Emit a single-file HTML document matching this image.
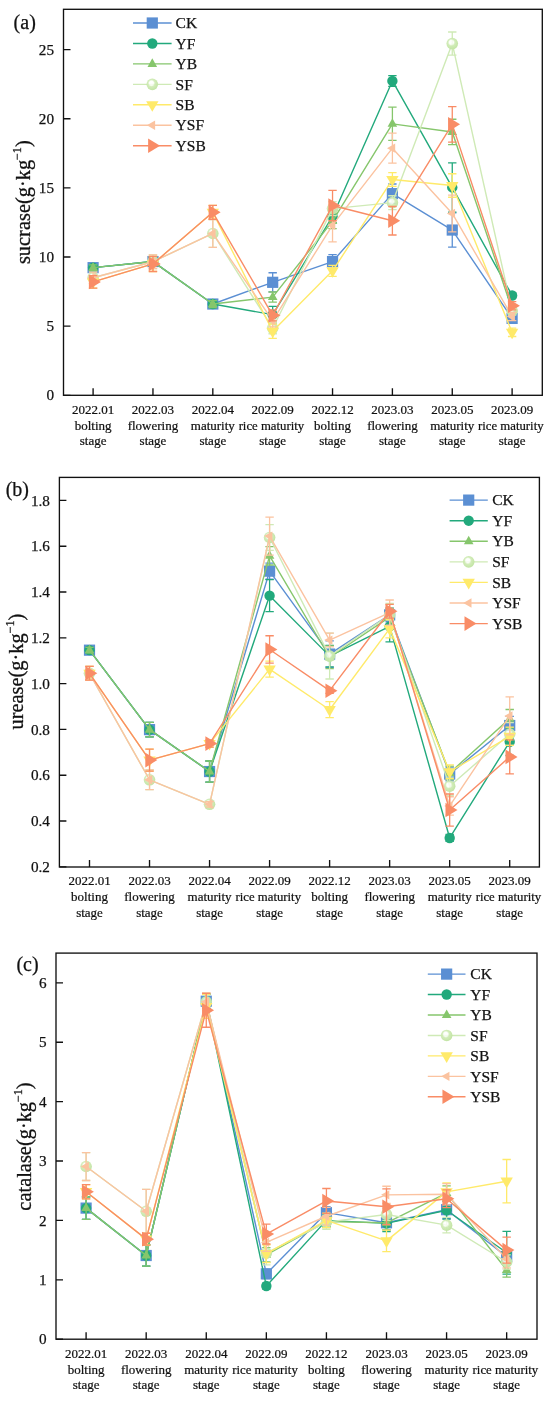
<!DOCTYPE html>
<html lang="en">
<head>
<meta charset="utf-8">
<title>Soil enzyme activity: sucrase, urease, catalase</title>
<style>
html,body{margin:0;padding:0;background:#fff;}
body{width:550px;height:1401px;overflow:hidden;font-family:"Liberation Serif","Times New Roman",serif;}
svg{display:block;}
</style>
</head>
<body>
<svg width="550" height="1401" viewBox="0 0 550 1401" font-family='"Liberation Serif", "Times New Roman", serif'>
<defs><radialGradient id="sph" cx="0.44" cy="0.42" r="0.58" fx="0.42" fy="0.38"><stop offset="0" stop-color="#ffffff" stop-opacity="0.8"/><stop offset="0.3" stop-color="#fdfffb" stop-opacity="0.8"/><stop offset="0.52" stop-color="#CFEBB4" stop-opacity="0.92"/><stop offset="1" stop-color="#C2E4A4"/></radialGradient></defs>
<rect width="550" height="1401" fill="#fff"/>
<g>
<g>
<polyline fill="none" stroke="#5B8FD3" stroke-width="1.4" stroke-linejoin="round" points="93.1,267.65 152.96,261.56 212.82,304.02 272.68,282.31 332.54,261.56 392.4,193.66 452.26,230.03 512.12,318.41"/>
<path fill="none" stroke="#5B8FD3" stroke-width="1.3" d="M93.1 264.88V270.42M88.9 264.88H97.3M88.9 270.42H97.3M152.96 257.41V265.71M148.76 257.41H157.16M148.76 265.71H157.16M212.82 300.56V307.48M208.62 300.56H217.02M208.62 307.48H217.02M272.68 272.77V291.85M268.48 272.77H276.88M268.48 291.85H276.88M332.54 254.65V268.48M328.34 254.65H336.74M328.34 268.48H336.74M392.4 183.98V203.34M388.2 183.98H396.6M388.2 203.34H396.6M452.26 212.88V247.18M448.06 212.88H456.46M448.06 247.18H456.46M512.12 315.64V321.17M507.92 315.64H516.32M507.92 321.17H516.32"/>
<rect x="87.5" y="262.05" width="11.2" height="11.2" fill="#5B8FD3"/>
<rect x="147.36" y="255.96" width="11.2" height="11.2" fill="#5B8FD3"/>
<rect x="207.22" y="298.42" width="11.2" height="11.2" fill="#5B8FD3"/>
<rect x="267.08" y="276.71" width="11.2" height="11.2" fill="#5B8FD3"/>
<rect x="326.94" y="255.96" width="11.2" height="11.2" fill="#5B8FD3"/>
<rect x="386.8" y="188.06" width="11.2" height="11.2" fill="#5B8FD3"/>
<rect x="446.66" y="224.43" width="11.2" height="11.2" fill="#5B8FD3"/>
<rect x="506.52" y="312.81" width="11.2" height="11.2" fill="#5B8FD3"/>
</g>
<g>
<polyline fill="none" stroke="#22A97C" stroke-width="1.4" stroke-linejoin="round" points="93.1,267.65 152.96,261.56 212.82,304.02 272.68,314.67 332.54,216.48 392.4,80.94 452.26,187.44 512.12,295.45"/>
<path fill="none" stroke="#22A97C" stroke-width="1.3" d="M93.1 264.88V270.42M88.9 264.88H97.3M88.9 270.42H97.3M152.96 257.41V265.71M148.76 257.41H157.16M148.76 265.71H157.16M212.82 300.56V307.48M208.62 300.56H217.02M208.62 307.48H217.02M272.68 306.37V322.97M268.48 306.37H276.88M268.48 322.97H276.88M332.54 210.25V222.7M328.34 210.25H336.74M328.34 222.7H336.74M392.4 75.55V86.34M388.2 75.55H396.6M388.2 86.34H396.6M452.26 162.82V212.05M448.06 162.82H456.46M448.06 212.05H456.46M512.12 292.68V298.21M507.92 292.68H516.32M507.92 298.21H516.32"/>
<circle cx="93.1" cy="267.65" r="5.2" fill="#22A97C"/>
<circle cx="152.96" cy="261.56" r="5.2" fill="#22A97C"/>
<circle cx="212.82" cy="304.02" r="5.2" fill="#22A97C"/>
<circle cx="272.68" cy="314.67" r="5.2" fill="#22A97C"/>
<circle cx="332.54" cy="216.48" r="5.2" fill="#22A97C"/>
<circle cx="392.4" cy="80.94" r="5.2" fill="#22A97C"/>
<circle cx="452.26" cy="187.44" r="5.2" fill="#22A97C"/>
<circle cx="512.12" cy="295.45" r="5.2" fill="#22A97C"/>
</g>
<g>
<polyline fill="none" stroke="#86C66C" stroke-width="1.4" stroke-linejoin="round" points="93.1,267.65 152.96,261.56 212.82,304.02 272.68,297.11 332.54,221.04 392.4,123.82 452.26,131.98 512.12,309.55"/>
<path fill="none" stroke="#86C66C" stroke-width="1.3" d="M93.1 264.88V270.42M88.9 264.88H97.3M88.9 270.42H97.3M152.96 257.41V265.71M148.76 257.41H157.16M148.76 265.71H157.16M212.82 300.56V307.48M208.62 300.56H217.02M208.62 307.48H217.02M272.68 291.99V302.22M268.48 291.99H276.88M268.48 302.22H276.88M332.54 213.44V228.65M328.34 213.44H336.74M328.34 228.65H336.74M392.4 107.22V140.41M388.2 107.22H396.6M388.2 140.41H396.6M452.26 119.25V144.7M448.06 119.25H456.46M448.06 144.7H456.46M512.12 306.1V313.01M507.92 306.1H516.32M507.92 313.01H516.32"/>
<path d="M93.1 262.05L97.9 270.65L88.3 270.65Z" fill="#86C66C"/>
<path d="M152.96 255.96L157.76 264.56L148.16 264.56Z" fill="#86C66C"/>
<path d="M212.82 298.42L217.62 307.02L208.02 307.02Z" fill="#86C66C"/>
<path d="M272.68 291.51L277.48 300.11L267.88 300.11Z" fill="#86C66C"/>
<path d="M332.54 215.44L337.34 224.04L327.74 224.04Z" fill="#86C66C"/>
<path d="M392.4 118.22L397.2 126.82L387.6 126.82Z" fill="#86C66C"/>
<path d="M452.26 126.38L457.06 134.98L447.46 134.98Z" fill="#86C66C"/>
<path d="M512.12 303.95L516.92 312.55L507.32 312.55Z" fill="#86C66C"/>
</g>
<g>
<polyline fill="none" stroke="#CFEAB6" stroke-width="1.4" stroke-linejoin="round" points="93.1,277.75 152.96,261.7 212.82,233.49 272.68,328.22 332.54,208.59 392.4,202.65 452.26,43.6 512.12,310.94"/>
<path fill="none" stroke="#CFEAB6" stroke-width="1.3" d="M93.1 272.21V283.28M88.9 272.21H97.3M88.9 283.28H97.3M152.96 254.79V268.62M148.76 254.79H157.16M148.76 268.62H157.16M212.82 219.66V247.32M208.62 219.66H217.02M208.62 247.32H217.02M272.68 322.69V333.76M268.48 322.69H276.88M268.48 333.76H276.88M332.54 201.68V215.51M328.34 201.68H336.74M328.34 215.51H336.74M392.4 195.73V209.56M388.2 195.73H396.6M388.2 209.56H396.6M452.26 31.99V55.22M448.06 31.99H456.46M448.06 55.22H456.46M512.12 306.79V315.09M507.92 306.79H516.32M507.92 315.09H516.32"/>
<circle cx="93.1" cy="277.75" r="5.8" fill="url(#sph)"/>
<circle cx="152.96" cy="261.7" r="5.8" fill="url(#sph)"/>
<circle cx="212.82" cy="233.49" r="5.8" fill="url(#sph)"/>
<circle cx="272.68" cy="328.22" r="5.8" fill="url(#sph)"/>
<circle cx="332.54" cy="208.59" r="5.8" fill="url(#sph)"/>
<circle cx="392.4" cy="202.65" r="5.8" fill="url(#sph)"/>
<circle cx="452.26" cy="43.6" r="5.8" fill="url(#sph)"/>
<circle cx="512.12" cy="310.94" r="5.8" fill="url(#sph)"/>
</g>
<g>
<polyline fill="none" stroke="#FFEA6A" stroke-width="1.4" stroke-linejoin="round" points="93.1,281.89 152.96,263.92 212.82,212.33 272.68,331.27 332.54,270.83 392.4,179.55 452.26,185.5 512.12,332.37"/>
<path fill="none" stroke="#FFEA6A" stroke-width="1.3" d="M93.1 275.67V288.12M88.9 275.67H97.3M88.9 288.12H97.3M152.96 256.31V271.52M148.76 256.31H157.16M148.76 271.52H157.16M212.82 205.41V219.24M208.62 205.41H217.02M208.62 219.24H217.02M272.68 324.21V338.32M268.48 324.21H276.88M268.48 338.32H276.88M332.54 265.3V276.36M328.34 265.3H336.74M328.34 276.36H336.74M392.4 172.64V186.47M388.2 172.64H396.6M388.2 186.47H396.6M452.26 173.74V197.25M448.06 173.74H456.46M448.06 197.25H456.46M512.12 328.22V336.52M507.92 328.22H516.32M507.92 336.52H516.32"/>
<path d="M86.9 278.29L99.3 278.29L93.1 288.89Z" fill="#FFEA6A"/>
<path d="M146.76 260.31L159.16 260.31L152.96 270.92Z" fill="#FFEA6A"/>
<path d="M206.62 208.73L219.02 208.73L212.82 219.33Z" fill="#FFEA6A"/>
<path d="M266.48 327.67L278.88 327.67L272.68 338.27Z" fill="#FFEA6A"/>
<path d="M326.34 267.23L338.74 267.23L332.54 277.83Z" fill="#FFEA6A"/>
<path d="M386.2 175.95L398.6 175.95L392.4 186.55Z" fill="#FFEA6A"/>
<path d="M446.06 181.9L458.46 181.9L452.26 192.5Z" fill="#FFEA6A"/>
<path d="M505.92 328.77L518.32 328.77L512.12 339.37Z" fill="#FFEA6A"/>
</g>
<g>
<polyline fill="none" stroke="#FBC3A0" stroke-width="1.4" stroke-linejoin="round" points="93.1,277.75 152.96,261.7 212.82,233.49 272.68,320.62 332.54,225.19 392.4,148.16 452.26,213.44 512.12,316.47"/>
<path fill="none" stroke="#FBC3A0" stroke-width="1.3" d="M93.1 272.21V283.28M88.9 272.21H97.3M88.9 283.28H97.3M152.96 254.79V268.62M148.76 254.79H157.16M148.76 268.62H157.16M212.82 219.66V247.32M208.62 219.66H217.02M208.62 247.32H217.02M272.68 314.39V326.84M268.48 314.39H276.88M268.48 326.84H276.88M332.54 208.59V241.79M328.34 208.59H336.74M328.34 241.79H336.74M392.4 133.22V163.09M388.2 133.22H396.6M388.2 163.09H396.6M452.26 195.04V231.83M448.06 195.04H456.46M448.06 231.83H456.46M512.12 312.32V320.62M507.92 312.32H516.32M507.92 320.62H516.32"/>
<path d="M87.7 277.75L95.9 273.05L95.9 282.44Z" fill="#FBC3A0"/>
<path d="M147.56 261.7L155.76 257L155.76 266.4Z" fill="#FBC3A0"/>
<path d="M207.42 233.49L215.62 228.79L215.62 238.19Z" fill="#FBC3A0"/>
<path d="M267.28 320.62L275.48 315.92L275.48 325.32Z" fill="#FBC3A0"/>
<path d="M327.14 225.19L335.34 220.49L335.34 229.89Z" fill="#FBC3A0"/>
<path d="M387 148.16L395.2 143.46L395.2 152.86Z" fill="#FBC3A0"/>
<path d="M446.86 213.44L455.06 208.74L455.06 218.14Z" fill="#FBC3A0"/>
<path d="M506.72 316.47L514.92 311.77L514.92 321.17Z" fill="#FBC3A0"/>
</g>
<g>
<polyline fill="none" stroke="#F98C66" stroke-width="1.4" stroke-linejoin="round" points="93.1,281.89 152.96,263.92 212.82,212.33 272.68,315.36 332.54,205.55 392.4,220.77 452.26,124.37 512.12,305.68"/>
<path fill="none" stroke="#F98C66" stroke-width="1.3" d="M93.1 275.67V288.12M88.9 275.67H97.3M88.9 288.12H97.3M152.96 256.31V271.52M148.76 256.31H157.16M148.76 271.52H157.16M212.82 205.41V219.24M208.62 205.41H217.02M208.62 219.24H217.02M272.68 309.83V320.89M268.48 309.83H276.88M268.48 320.89H276.88M332.54 190.34V220.77M328.34 190.34H336.74M328.34 220.77H336.74M392.4 206.52V235.01M388.2 206.52H396.6M388.2 235.01H396.6M452.26 106.53V142.21M448.06 106.53H456.46M448.06 142.21H456.46M512.12 301.53V309.83M507.92 301.53H516.32M507.92 309.83H516.32"/>
<path d="M88.9 274.59L100.9 281.89L88.9 289.19Z" fill="#F98C66"/>
<path d="M148.76 256.62L160.76 263.92L148.76 271.22Z" fill="#F98C66"/>
<path d="M208.62 205.03L220.62 212.33L208.62 219.63Z" fill="#F98C66"/>
<path d="M268.48 308.06L280.48 315.36L268.48 322.66Z" fill="#F98C66"/>
<path d="M328.34 198.25L340.34 205.55L328.34 212.85Z" fill="#F98C66"/>
<path d="M388.2 213.47L400.2 220.77L388.2 228.07Z" fill="#F98C66"/>
<path d="M448.06 117.07L460.06 124.37L448.06 131.67Z" fill="#F98C66"/>
<path d="M507.92 298.38L519.92 305.68L507.92 312.98Z" fill="#F98C66"/>
</g>
<rect x="63.5" y="9.3" width="478.8" height="386" fill="none" stroke="#111" stroke-width="1.35"/>
<path d="M63.5 395.3h7M63.5 326.15h7M63.5 257h7M63.5 187.85h7M63.5 118.7h7M63.5 49.55h7M93.1 395.3v-7M152.96 395.3v-7M212.82 395.3v-7M272.68 395.3v-7M332.54 395.3v-7M392.4 395.3v-7M452.26 395.3v-7M512.12 395.3v-7" stroke="#111" stroke-width="1.35" fill="none"/>
<g font-size="15.2" text-anchor="end" fill="#111" stroke="#111" stroke-width="0.25">
<text x="54" y="400.4">0</text>
<text x="54" y="331.25">5</text>
<text x="54" y="262.1">10</text>
<text x="54" y="192.95">15</text>
<text x="54" y="123.8">20</text>
<text x="54" y="54.65">25</text>
</g>
<g font-size="13" text-anchor="middle" fill="#111" stroke="#111" stroke-width="0.22">
<text x="93.1" y="413.7">2022.01</text>
<text x="93.1" y="429.7">bolting</text>
<text x="93.1" y="444.9">stage</text>
<text x="152.96" y="413.7">2022.03</text>
<text x="152.96" y="429.7">flowering</text>
<text x="152.96" y="444.9">stage</text>
<text x="212.82" y="413.7">2022.04</text>
<text x="212.82" y="429.7">maturity</text>
<text x="212.82" y="444.9">stage</text>
<text x="272.68" y="413.7">2022.09</text>
<text x="271.38" y="429.7" font-size="12.75">rice maturity</text>
<text x="272.68" y="444.9">stage</text>
<text x="332.54" y="413.7">2022.12</text>
<text x="332.54" y="429.7">bolting</text>
<text x="332.54" y="444.9">stage</text>
<text x="392.4" y="413.7">2023.03</text>
<text x="392.4" y="429.7">flowering</text>
<text x="392.4" y="444.9">stage</text>
<text x="452.26" y="413.7">2023.05</text>
<text x="452.26" y="429.7">maturity</text>
<text x="452.26" y="444.9">stage</text>
<text x="512.12" y="413.7">2023.09</text>
<text x="510.82" y="429.7" font-size="12.75">rice maturity</text>
<text x="512.12" y="444.9">stage</text>
</g>
<text transform="translate(30.3 202.2) rotate(-90)" font-size="20.4" text-anchor="middle" fill="#111" stroke="#111" stroke-width="0.3">sucrase(g·kg<tspan font-size="12" dy="-9">−1</tspan><tspan dy="9">)</tspan></text>
<text x="13.6" y="29" font-size="20" fill="#111" stroke="#111" stroke-width="0.25">(a)</text>
<g font-size="15.5" fill="#111" stroke-width="0.25">
<path d="M133 23H171.6" stroke="#5B8FD3" stroke-width="1.4"/>
<rect x="146.7" y="17.4" width="11.2" height="11.2" fill="#5B8FD3"/>
<text stroke="#111" x="175.6" y="28.2">CK</text>
<path d="M133 43.45H171.6" stroke="#22A97C" stroke-width="1.4"/>
<circle cx="152.3" cy="43.45" r="5.2" fill="#22A97C"/>
<text stroke="#111" x="175.6" y="48.65">YF</text>
<path d="M133 63.9H171.6" stroke="#86C66C" stroke-width="1.4"/>
<path d="M152.3 58.3L157.1 66.9L147.5 66.9Z" fill="#86C66C"/>
<text stroke="#111" x="175.6" y="69.1">YB</text>
<path d="M133 84.35H171.6" stroke="#CFEAB6" stroke-width="1.4"/>
<circle cx="152.3" cy="84.35" r="5.8" fill="url(#sph)"/>
<text stroke="#111" x="175.6" y="89.55">SF</text>
<path d="M133 104.8H171.6" stroke="#FFEA6A" stroke-width="1.4"/>
<path d="M146.1 101.2L158.5 101.2L152.3 111.8Z" fill="#FFEA6A"/>
<text stroke="#111" x="175.6" y="110">SB</text>
<path d="M133 125.25H171.6" stroke="#FBC3A0" stroke-width="1.4"/>
<path d="M146.9 125.25L155.1 120.55L155.1 129.95Z" fill="#FBC3A0"/>
<text stroke="#111" x="175.6" y="130.45">YSF</text>
<path d="M133 145.7H171.6" stroke="#F98C66" stroke-width="1.4"/>
<path d="M148.1 138.4L160.1 145.7L148.1 153Z" fill="#F98C66"/>
<text stroke="#111" x="175.6" y="150.9">YSB</text>
</g>
</g>
<g>
<g>
<polyline fill="none" stroke="#5B8FD3" stroke-width="1.4" stroke-linejoin="round" points="89.5,650.17 149.53,729.63 209.56,771.54 269.59,571.16 329.62,654.06 389.65,614.9 449.68,774.05 509.71,725.51"/>
<path fill="none" stroke="#5B8FD3" stroke-width="1.3" d="M89.5 647.42V652.91M85.3 647.42H93.7M85.3 652.91H93.7M149.53 722.3V736.96M145.33 722.3H153.73M145.33 736.96H153.73M209.56 761V782.07M205.36 761H213.76M205.36 782.07H213.76M269.59 563.15V579.18M265.39 563.15H273.79M265.39 579.18H273.79M329.62 640.78V667.34M325.42 640.78H333.82M325.42 667.34H333.82M389.65 608.03V621.77M385.45 608.03H393.85M385.45 621.77H393.85M449.68 767.18V780.92M445.48 767.18H453.88M445.48 780.92H453.88M509.71 716.35V734.67M505.51 716.35H513.91M505.51 734.67H513.91"/>
<rect x="83.9" y="644.57" width="11.2" height="11.2" fill="#5B8FD3"/>
<rect x="143.93" y="724.03" width="11.2" height="11.2" fill="#5B8FD3"/>
<rect x="203.96" y="765.94" width="11.2" height="11.2" fill="#5B8FD3"/>
<rect x="263.99" y="565.56" width="11.2" height="11.2" fill="#5B8FD3"/>
<rect x="324.02" y="648.46" width="11.2" height="11.2" fill="#5B8FD3"/>
<rect x="384.05" y="609.3" width="11.2" height="11.2" fill="#5B8FD3"/>
<rect x="444.08" y="768.45" width="11.2" height="11.2" fill="#5B8FD3"/>
<rect x="504.11" y="719.91" width="11.2" height="11.2" fill="#5B8FD3"/>
</g>
<g>
<polyline fill="none" stroke="#22A97C" stroke-width="1.4" stroke-linejoin="round" points="89.5,650.17 149.53,729.63 209.56,771.54 269.59,595.66 329.62,656.12 389.65,626.35 449.68,837.95 509.71,741.77"/>
<path fill="none" stroke="#22A97C" stroke-width="1.3" d="M89.5 647.42V652.91M85.3 647.42H93.7M85.3 652.91H93.7M149.53 722.3V736.96M145.33 722.3H153.73M145.33 736.96H153.73M209.56 761V782.07M205.36 761H213.76M205.36 782.07H213.76M269.59 579.63V611.69M265.39 579.63H273.79M265.39 611.69H273.79M329.62 645.36V666.88M325.42 645.36H333.82M325.42 666.88H333.82M389.65 610.78V641.92M385.45 610.78H393.85M385.45 641.92H393.85M449.68 834.51V841.38M445.48 834.51H453.88M445.48 841.38H453.88M509.71 728.03V755.51M505.51 728.03H513.91M505.51 755.51H513.91"/>
<circle cx="89.5" cy="650.17" r="5.2" fill="#22A97C"/>
<circle cx="149.53" cy="729.63" r="5.2" fill="#22A97C"/>
<circle cx="209.56" cy="771.54" r="5.2" fill="#22A97C"/>
<circle cx="269.59" cy="595.66" r="5.2" fill="#22A97C"/>
<circle cx="329.62" cy="656.12" r="5.2" fill="#22A97C"/>
<circle cx="389.65" cy="626.35" r="5.2" fill="#22A97C"/>
<circle cx="449.68" cy="837.95" r="5.2" fill="#22A97C"/>
<circle cx="509.71" cy="741.77" r="5.2" fill="#22A97C"/>
</g>
<g>
<polyline fill="none" stroke="#86C66C" stroke-width="1.4" stroke-linejoin="round" points="89.5,650.17 149.53,729.63 209.56,771.54 269.59,555.82 329.62,657.26 389.65,617.19 449.68,772.91 509.71,718.64"/>
<path fill="none" stroke="#86C66C" stroke-width="1.3" d="M89.5 647.42V652.91M85.3 647.42H93.7M85.3 652.91H93.7M149.53 722.3V736.96M145.33 722.3H153.73M145.33 736.96H153.73M209.56 761V782.07M205.36 761H213.76M205.36 782.07H213.76M269.59 546.66V564.98M265.39 546.66H273.79M265.39 564.98H273.79M329.62 645.81V668.71M325.42 645.81H333.82M325.42 668.71H333.82M389.65 608.03V626.35M385.45 608.03H393.85M385.45 626.35H393.85M449.68 766.04V779.78M445.48 766.04H453.88M445.48 779.78H453.88M509.71 709.48V727.8M505.51 709.48H513.91M505.51 727.8H513.91"/>
<path d="M89.5 644.57L94.3 653.17L84.7 653.17Z" fill="#86C66C"/>
<path d="M149.53 724.03L154.33 732.63L144.73 732.63Z" fill="#86C66C"/>
<path d="M209.56 765.94L214.36 774.54L204.76 774.54Z" fill="#86C66C"/>
<path d="M269.59 550.22L274.39 558.82L264.79 558.82Z" fill="#86C66C"/>
<path d="M329.62 651.66L334.42 660.26L324.82 660.26Z" fill="#86C66C"/>
<path d="M389.65 611.59L394.45 620.19L384.85 620.19Z" fill="#86C66C"/>
<path d="M449.68 767.31L454.48 775.91L444.88 775.91Z" fill="#86C66C"/>
<path d="M509.71 713.04L514.51 721.64L504.91 721.64Z" fill="#86C66C"/>
</g>
<g>
<polyline fill="none" stroke="#CFEAB6" stroke-width="1.4" stroke-linejoin="round" points="89.5,673.29 149.53,779.78 209.56,804.28 269.59,537.5 329.62,656.12 389.65,614.9 449.68,786.19 509.71,733.98"/>
<path fill="none" stroke="#CFEAB6" stroke-width="1.3" d="M89.5 666.42V680.16M85.3 666.42H93.7M85.3 680.16H93.7M149.53 769.93V789.63M145.33 769.93H153.73M145.33 789.63H153.73M209.56 801.53V807.03M205.36 801.53H213.76M205.36 807.03H213.76M269.59 524.67V550.32M265.39 524.67H273.79M265.39 550.32H273.79M329.62 633.22V679.02M325.42 633.22H333.82M325.42 679.02H333.82M389.65 603.45V626.35M385.45 603.45H393.85M385.45 626.35H393.85M449.68 777.03V795.35M445.48 777.03H453.88M445.48 795.35H453.88M509.71 722.53V745.43M505.51 722.53H513.91M505.51 745.43H513.91"/>
<circle cx="89.5" cy="673.29" r="5.8" fill="url(#sph)"/>
<circle cx="149.53" cy="779.78" r="5.8" fill="url(#sph)"/>
<circle cx="209.56" cy="804.28" r="5.8" fill="url(#sph)"/>
<circle cx="269.59" cy="537.5" r="5.8" fill="url(#sph)"/>
<circle cx="329.62" cy="656.12" r="5.8" fill="url(#sph)"/>
<circle cx="389.65" cy="614.9" r="5.8" fill="url(#sph)"/>
<circle cx="449.68" cy="786.19" r="5.8" fill="url(#sph)"/>
<circle cx="509.71" cy="733.98" r="5.8" fill="url(#sph)"/>
</g>
<g>
<polyline fill="none" stroke="#FFEA6A" stroke-width="1.4" stroke-linejoin="round" points="89.5,673.29 149.53,760.09 209.56,743.6 269.59,669.17 329.62,709.71 389.65,628.64 449.68,771.76 509.71,736.27"/>
<path fill="none" stroke="#FFEA6A" stroke-width="1.3" d="M89.5 666.42V680.16M85.3 666.42H93.7M85.3 680.16H93.7M149.53 749.09V771.08M145.33 749.09H153.73M145.33 771.08H153.73M209.56 740.16V747.03M205.36 740.16H213.76M205.36 747.03H213.76M269.59 661.16V677.19M265.39 661.16H273.79M265.39 677.19H273.79M329.62 701.69V717.72M325.42 701.69H333.82M325.42 717.72H333.82M389.65 619.48V637.8M385.45 619.48H393.85M385.45 637.8H393.85M449.68 764.89V778.63M445.48 764.89H453.88M445.48 778.63H453.88M509.71 727.11V745.43M505.51 727.11H513.91M505.51 745.43H513.91"/>
<path d="M83.3 669.69L95.7 669.69L89.5 680.29Z" fill="#FFEA6A"/>
<path d="M143.33 756.49L155.73 756.49L149.53 767.09Z" fill="#FFEA6A"/>
<path d="M203.36 740L215.76 740L209.56 750.6Z" fill="#FFEA6A"/>
<path d="M263.39 665.57L275.79 665.57L269.59 676.17Z" fill="#FFEA6A"/>
<path d="M323.42 706.11L335.82 706.11L329.62 716.71Z" fill="#FFEA6A"/>
<path d="M383.45 625.04L395.85 625.04L389.65 635.64Z" fill="#FFEA6A"/>
<path d="M443.48 768.16L455.88 768.16L449.68 778.76Z" fill="#FFEA6A"/>
<path d="M503.51 732.67L515.91 732.67L509.71 743.27Z" fill="#FFEA6A"/>
</g>
<g>
<polyline fill="none" stroke="#FBC3A0" stroke-width="1.4" stroke-linejoin="round" points="89.5,673.29 149.53,779.78 209.56,804.28 269.59,536.12 329.62,640.09 389.65,612.61 449.68,805.89 509.71,715.89"/>
<path fill="none" stroke="#FBC3A0" stroke-width="1.3" d="M89.5 666.42V680.16M85.3 666.42H93.7M85.3 680.16H93.7M149.53 769.93V789.63M145.33 769.93H153.73M145.33 789.63H153.73M209.56 801.53V807.03M205.36 801.53H213.76M205.36 807.03H213.76M269.59 517.12V555.13M265.39 517.12H273.79M265.39 555.13H273.79M329.62 633.22V646.96M325.42 633.22H333.82M325.42 646.96H333.82M389.65 600.01V625.2M385.45 600.01H393.85M385.45 625.2H393.85M449.68 796.73V815.05M445.48 796.73H453.88M445.48 815.05H453.88M509.71 696.88V734.9M505.51 696.88H513.91M505.51 734.9H513.91"/>
<path d="M84.1 673.29L92.3 668.59L92.3 678Z" fill="#FBC3A0"/>
<path d="M144.13 779.78L152.33 775.08L152.33 784.48Z" fill="#FBC3A0"/>
<path d="M204.16 804.28L212.36 799.58L212.36 808.98Z" fill="#FBC3A0"/>
<path d="M264.19 536.12L272.39 531.42L272.39 540.82Z" fill="#FBC3A0"/>
<path d="M324.22 640.09L332.42 635.39L332.42 644.79Z" fill="#FBC3A0"/>
<path d="M384.25 612.61L392.45 607.91L392.45 617.31Z" fill="#FBC3A0"/>
<path d="M444.28 805.89L452.48 801.19L452.48 810.59Z" fill="#FBC3A0"/>
<path d="M504.31 715.89L512.51 711.19L512.51 720.59Z" fill="#FBC3A0"/>
</g>
<g>
<polyline fill="none" stroke="#F98C66" stroke-width="1.4" stroke-linejoin="round" points="89.5,673.29 149.53,760.09 209.56,743.6 269.59,649.48 329.62,690.7 389.65,611.24 449.68,810.01 509.71,756.88"/>
<path fill="none" stroke="#F98C66" stroke-width="1.3" d="M89.5 666.42V680.16M85.3 666.42H93.7M85.3 680.16H93.7M149.53 749.09V771.08M145.33 749.09H153.73M145.33 771.08H153.73M209.56 740.16V747.03M205.36 740.16H213.76M205.36 747.03H213.76M269.59 635.74V663.22M265.39 635.74H273.79M265.39 663.22H273.79M329.62 687.95V693.45M325.42 687.95H333.82M325.42 693.45H333.82M389.65 604.37V618.11M385.45 604.37H393.85M385.45 618.11H393.85M449.68 793.98V826.04M445.48 793.98H453.88M445.48 826.04H453.88M509.71 739.93V773.83M505.51 739.93H513.91M505.51 773.83H513.91"/>
<path d="M85.3 666L97.3 673.29L85.3 680.59Z" fill="#F98C66"/>
<path d="M145.33 752.79L157.33 760.09L145.33 767.39Z" fill="#F98C66"/>
<path d="M205.36 736.3L217.36 743.6L205.36 750.9Z" fill="#F98C66"/>
<path d="M265.39 642.18L277.39 649.48L265.39 656.78Z" fill="#F98C66"/>
<path d="M325.42 683.4L337.42 690.7L325.42 698Z" fill="#F98C66"/>
<path d="M385.45 603.94L397.45 611.24L385.45 618.54Z" fill="#F98C66"/>
<path d="M445.48 802.71L457.48 810.01L445.48 817.31Z" fill="#F98C66"/>
<path d="M505.51 749.58L517.51 756.88L505.51 764.18Z" fill="#F98C66"/>
</g>
<rect x="59.4" y="477.4" width="480" height="389.6" fill="none" stroke="#111" stroke-width="1.35"/>
<path d="M59.4 866.8h7M59.4 821h7M59.4 775.2h7M59.4 729.4h7M59.4 683.6h7M59.4 637.8h7M59.4 592h7M59.4 546.2h7M59.4 500.4h7M89.5 867v-7M149.53 867v-7M209.56 867v-7M269.59 867v-7M329.62 867v-7M389.65 867v-7M449.68 867v-7M509.71 867v-7" stroke="#111" stroke-width="1.35" fill="none"/>
<g font-size="15.2" text-anchor="end" fill="#111" stroke="#111" stroke-width="0.25">
<text x="49.9" y="871.9">0.2</text>
<text x="49.9" y="826.1">0.4</text>
<text x="49.9" y="780.3">0.6</text>
<text x="49.9" y="734.5">0.8</text>
<text x="49.9" y="688.7">1.0</text>
<text x="49.9" y="642.9">1.2</text>
<text x="49.9" y="597.1">1.4</text>
<text x="49.9" y="551.3">1.6</text>
<text x="49.9" y="505.5">1.8</text>
</g>
<g font-size="13" text-anchor="middle" fill="#111" stroke="#111" stroke-width="0.22">
<text x="89.5" y="885.4">2022.01</text>
<text x="89.5" y="901.4">bolting</text>
<text x="89.5" y="916.6">stage</text>
<text x="149.53" y="885.4">2022.03</text>
<text x="149.53" y="901.4">flowering</text>
<text x="149.53" y="916.6">stage</text>
<text x="209.56" y="885.4">2022.04</text>
<text x="209.56" y="901.4">maturity</text>
<text x="209.56" y="916.6">stage</text>
<text x="269.59" y="885.4">2022.09</text>
<text x="268.29" y="901.4" font-size="12.75">rice maturity</text>
<text x="269.59" y="916.6">stage</text>
<text x="329.62" y="885.4">2022.12</text>
<text x="329.62" y="901.4">bolting</text>
<text x="329.62" y="916.6">stage</text>
<text x="389.65" y="885.4">2023.03</text>
<text x="389.65" y="901.4">flowering</text>
<text x="389.65" y="916.6">stage</text>
<text x="449.68" y="885.4">2023.05</text>
<text x="449.68" y="901.4">maturity</text>
<text x="449.68" y="916.6">stage</text>
<text x="509.71" y="885.4">2023.09</text>
<text x="508.41" y="901.4" font-size="12.75">rice maturity</text>
<text x="509.71" y="916.6">stage</text>
</g>
<text transform="translate(23 671.6) rotate(-90)" font-size="20.4" text-anchor="middle" fill="#111" stroke="#111" stroke-width="0.3">urease(g·kg<tspan font-size="12" dy="-9">−1</tspan><tspan dy="9">)</tspan></text>
<text x="5.7" y="496.4" font-size="20" fill="#111" stroke="#111" stroke-width="0.25">(b)</text>
<g font-size="15.5" fill="#111" stroke-width="0.25">
<path d="M449.6 500.1H487.8" stroke="#5B8FD3" stroke-width="1.4"/>
<rect x="463.1" y="494.5" width="11.2" height="11.2" fill="#5B8FD3"/>
<text stroke="#111" x="492.2" y="505.3">CK</text>
<path d="M449.6 520.68H487.8" stroke="#22A97C" stroke-width="1.4"/>
<circle cx="468.7" cy="520.68" r="5.2" fill="#22A97C"/>
<text stroke="#111" x="492.2" y="525.88">YF</text>
<path d="M449.6 541.26H487.8" stroke="#86C66C" stroke-width="1.4"/>
<path d="M468.7 535.66L473.5 544.26L463.9 544.26Z" fill="#86C66C"/>
<text stroke="#111" x="492.2" y="546.46">YB</text>
<path d="M449.6 561.84H487.8" stroke="#CFEAB6" stroke-width="1.4"/>
<circle cx="468.7" cy="561.84" r="5.8" fill="url(#sph)"/>
<text stroke="#111" x="492.2" y="567.04">SF</text>
<path d="M449.6 582.42H487.8" stroke="#FFEA6A" stroke-width="1.4"/>
<path d="M462.5 578.82L474.9 578.82L468.7 589.42Z" fill="#FFEA6A"/>
<text stroke="#111" x="492.2" y="587.62">SB</text>
<path d="M449.6 603H487.8" stroke="#FBC3A0" stroke-width="1.4"/>
<path d="M463.3 603L471.5 598.3L471.5 607.7Z" fill="#FBC3A0"/>
<text stroke="#111" x="492.2" y="608.2">YSF</text>
<path d="M449.6 623.58H487.8" stroke="#F98C66" stroke-width="1.4"/>
<path d="M464.5 616.28L476.5 623.58L464.5 630.88Z" fill="#F98C66"/>
<text stroke="#111" x="492.2" y="628.78">YSB</text>
</g>
</g>
<g>
<g>
<polyline fill="none" stroke="#5B8FD3" stroke-width="1.4" stroke-linejoin="round" points="86.1,1208.1 146.18,1255.51 206.26,1001.21 266.34,1273.86 326.42,1212.68 386.5,1222.78 446.58,1209.71 506.66,1256.63"/>
<path fill="none" stroke="#5B8FD3" stroke-width="1.3" d="M86.1 1196.82V1219.39M81.9 1196.82H90.3M81.9 1219.39H90.3M146.18 1244.81V1266.2M141.98 1244.81H150.38M141.98 1266.2H150.38M206.26 994.09V1008.34M202.06 994.09H210.46M202.06 1008.34H210.46M266.34 1269.11V1278.61M262.14 1269.11H270.54M262.14 1278.61H270.54M326.42 1206.74V1218.62M322.22 1206.74H330.62M322.22 1218.62H330.62M386.5 1215.65V1229.9M382.3 1215.65H390.7M382.3 1229.9H390.7M446.58 1200.8V1218.62M442.38 1200.8H450.78M442.38 1218.62H450.78M506.66 1249.51V1263.76M502.46 1249.51H510.86M502.46 1263.76H510.86"/>
<rect x="80.5" y="1202.5" width="11.2" height="11.2" fill="#5B8FD3"/>
<rect x="140.58" y="1249.91" width="11.2" height="11.2" fill="#5B8FD3"/>
<rect x="200.66" y="995.61" width="11.2" height="11.2" fill="#5B8FD3"/>
<rect x="260.74" y="1268.26" width="11.2" height="11.2" fill="#5B8FD3"/>
<rect x="320.82" y="1207.08" width="11.2" height="11.2" fill="#5B8FD3"/>
<rect x="380.9" y="1217.18" width="11.2" height="11.2" fill="#5B8FD3"/>
<rect x="440.98" y="1204.11" width="11.2" height="11.2" fill="#5B8FD3"/>
<rect x="501.06" y="1251.03" width="11.2" height="11.2" fill="#5B8FD3"/>
</g>
<g>
<polyline fill="none" stroke="#22A97C" stroke-width="1.4" stroke-linejoin="round" points="86.1,1208.1 146.18,1255.51 206.26,1001.21 266.34,1286.04 326.42,1220.4 386.5,1223.37 446.58,1210.3 506.66,1252.77"/>
<path fill="none" stroke="#22A97C" stroke-width="1.3" d="M86.1 1196.82V1219.39M81.9 1196.82H90.3M81.9 1219.39H90.3M146.18 1244.81V1266.2M141.98 1244.81H150.38M141.98 1266.2H150.38M206.26 994.09V1008.34M202.06 994.09H210.46M202.06 1008.34H210.46M266.34 1283.07V1289.01M262.14 1283.07H270.54M262.14 1289.01H270.54M326.42 1214.46V1226.34M322.22 1214.46H330.62M322.22 1226.34H330.62M386.5 1215.05V1231.69M382.3 1215.05H390.7M382.3 1231.69H390.7M446.58 1201.39V1219.21M442.38 1201.39H450.78M442.38 1219.21H450.78M506.66 1231.39V1274.16M502.46 1231.39H510.86M502.46 1274.16H510.86"/>
<circle cx="86.1" cy="1208.1" r="5.2" fill="#22A97C"/>
<circle cx="146.18" cy="1255.51" r="5.2" fill="#22A97C"/>
<circle cx="206.26" cy="1001.21" r="5.2" fill="#22A97C"/>
<circle cx="266.34" cy="1286.04" r="5.2" fill="#22A97C"/>
<circle cx="326.42" cy="1220.4" r="5.2" fill="#22A97C"/>
<circle cx="386.5" cy="1223.37" r="5.2" fill="#22A97C"/>
<circle cx="446.58" cy="1210.3" r="5.2" fill="#22A97C"/>
<circle cx="506.66" cy="1252.77" r="5.2" fill="#22A97C"/>
</g>
<g>
<polyline fill="none" stroke="#86C66C" stroke-width="1.4" stroke-linejoin="round" points="86.1,1208.1 146.18,1255.51 206.26,1001.21 266.34,1254.85 326.42,1221.59 386.5,1222.78 446.58,1193.08 506.66,1270"/>
<path fill="none" stroke="#86C66C" stroke-width="1.3" d="M86.1 1196.82V1219.39M81.9 1196.82H90.3M81.9 1219.39H90.3M146.18 1244.81V1266.2M141.98 1244.81H150.38M141.98 1266.2H150.38M206.26 994.09V1008.34M202.06 994.09H210.46M202.06 1008.34H210.46M266.34 1247.72V1261.98M262.14 1247.72H270.54M262.14 1261.98H270.54M326.42 1215.65V1227.53M322.22 1215.65H330.62M322.22 1227.53H330.62M386.5 1215.65V1229.9M382.3 1215.65H390.7M382.3 1229.9H390.7M446.58 1185.95V1200.2M442.38 1185.95H450.78M442.38 1200.2H450.78M506.66 1262.87V1277.13M502.46 1262.87H510.86M502.46 1277.13H510.86"/>
<path d="M86.1 1202.5L90.9 1211.1L81.3 1211.1Z" fill="#86C66C"/>
<path d="M146.18 1249.91L150.98 1258.51L141.38 1258.51Z" fill="#86C66C"/>
<path d="M206.26 995.61L211.06 1004.21L201.46 1004.21Z" fill="#86C66C"/>
<path d="M266.34 1249.25L271.14 1257.85L261.54 1257.85Z" fill="#86C66C"/>
<path d="M326.42 1215.99L331.22 1224.59L321.62 1224.59Z" fill="#86C66C"/>
<path d="M386.5 1217.18L391.3 1225.78L381.7 1225.78Z" fill="#86C66C"/>
<path d="M446.58 1187.48L451.38 1196.08L441.78 1196.08Z" fill="#86C66C"/>
<path d="M506.66 1264.4L511.46 1273L501.86 1273Z" fill="#86C66C"/>
</g>
<g>
<polyline fill="none" stroke="#CFEAB6" stroke-width="1.4" stroke-linejoin="round" points="86.1,1166.52 146.18,1211.31 206.26,1001.81 266.34,1253.07 326.42,1222.18 386.5,1214.46 446.58,1225.15 506.66,1261.98"/>
<path fill="none" stroke="#CFEAB6" stroke-width="1.3" d="M86.1 1152.57V1180.48M81.9 1152.57H90.3M81.9 1180.48H90.3M146.18 1189.33V1233.29M141.98 1189.33H150.38M141.98 1233.29H150.38M206.26 992.9V1010.72M202.06 992.9H210.46M202.06 1010.72H210.46M266.34 1241.19V1264.95M262.14 1241.19H270.54M262.14 1264.95H270.54M326.42 1215.05V1229.31M322.22 1215.05H330.62M322.22 1229.31H330.62M386.5 1208.52V1220.4M382.3 1208.52H390.7M382.3 1220.4H390.7M446.58 1217.43V1232.87M442.38 1217.43H450.78M442.38 1232.87H450.78M506.66 1254.85V1269.11M502.46 1254.85H510.86M502.46 1269.11H510.86"/>
<circle cx="86.1" cy="1166.52" r="5.8" fill="url(#sph)"/>
<circle cx="146.18" cy="1211.31" r="5.8" fill="url(#sph)"/>
<circle cx="206.26" cy="1001.81" r="5.8" fill="url(#sph)"/>
<circle cx="266.34" cy="1253.07" r="5.8" fill="url(#sph)"/>
<circle cx="326.42" cy="1222.18" r="5.8" fill="url(#sph)"/>
<circle cx="386.5" cy="1214.46" r="5.8" fill="url(#sph)"/>
<circle cx="446.58" cy="1225.15" r="5.8" fill="url(#sph)"/>
<circle cx="506.66" cy="1261.98" r="5.8" fill="url(#sph)"/>
</g>
<g>
<polyline fill="none" stroke="#FFEA6A" stroke-width="1.4" stroke-linejoin="round" points="86.1,1191.71 146.18,1239.17 206.26,1006.56 266.34,1253.66 326.42,1220.4 386.5,1240.89 446.58,1191.89 506.66,1181.2"/>
<path fill="none" stroke="#FFEA6A" stroke-width="1.3" d="M86.1 1184.58V1198.84M81.9 1184.58H90.3M81.9 1198.84H90.3M146.18 1233.23V1245.11M141.98 1233.23H150.38M141.98 1245.11H150.38M206.26 994.68V1018.44M202.06 994.68H210.46M202.06 1018.44H210.46M266.34 1244.75V1262.57M262.14 1244.75H270.54M262.14 1262.57H270.54M326.42 1213.27V1227.53M322.22 1213.27H330.62M322.22 1227.53H330.62M386.5 1230.2V1251.59M382.3 1230.2H390.7M382.3 1251.59H390.7M446.58 1182.98V1200.8M442.38 1182.98H450.78M442.38 1200.8H450.78M506.66 1159.52V1202.88M502.46 1159.52H510.86M502.46 1202.88H510.86"/>
<path d="M79.9 1188.11L92.3 1188.11L86.1 1198.71Z" fill="#FFEA6A"/>
<path d="M139.98 1235.57L152.38 1235.57L146.18 1246.17Z" fill="#FFEA6A"/>
<path d="M200.06 1002.96L212.46 1002.96L206.26 1013.56Z" fill="#FFEA6A"/>
<path d="M260.14 1250.06L272.54 1250.06L266.34 1260.66Z" fill="#FFEA6A"/>
<path d="M320.22 1216.8L332.62 1216.8L326.42 1227.4Z" fill="#FFEA6A"/>
<path d="M380.3 1237.29L392.7 1237.29L386.5 1247.89Z" fill="#FFEA6A"/>
<path d="M440.38 1188.29L452.78 1188.29L446.58 1198.89Z" fill="#FFEA6A"/>
<path d="M500.46 1177.6L512.86 1177.6L506.66 1188.2Z" fill="#FFEA6A"/>
</g>
<g>
<polyline fill="none" stroke="#FBC3A0" stroke-width="1.4" stroke-linejoin="round" points="86.1,1166.52 146.18,1211.31 206.26,1001.81 266.34,1242.38 326.42,1216.24 386.5,1194.86 446.58,1194.26 506.66,1259.01"/>
<path fill="none" stroke="#FBC3A0" stroke-width="1.3" d="M86.1 1152.57V1180.48M81.9 1152.57H90.3M81.9 1180.48H90.3M146.18 1189.33V1233.29M141.98 1189.33H150.38M141.98 1233.29H150.38M206.26 992.9V1010.72M202.06 992.9H210.46M202.06 1010.72H210.46M266.34 1233.47V1251.29M262.14 1233.47H270.54M262.14 1251.29H270.54M326.42 1207.33V1225.15M322.22 1207.33H330.62M322.22 1225.15H330.62M386.5 1186.25V1203.47M382.3 1186.25H390.7M382.3 1203.47H390.7M446.58 1183.57V1204.96M442.38 1183.57H450.78M442.38 1204.96H450.78M506.66 1250.1V1267.92M502.46 1250.1H510.86M502.46 1267.92H510.86"/>
<path d="M80.7 1166.52L88.9 1161.82L88.9 1171.22Z" fill="#FBC3A0"/>
<path d="M140.78 1211.31L148.98 1206.61L148.98 1216.01Z" fill="#FBC3A0"/>
<path d="M200.86 1001.81L209.06 997.11L209.06 1006.51Z" fill="#FBC3A0"/>
<path d="M260.94 1242.38L269.14 1237.68L269.14 1247.08Z" fill="#FBC3A0"/>
<path d="M321.02 1216.24L329.22 1211.54L329.22 1220.94Z" fill="#FBC3A0"/>
<path d="M381.1 1194.86L389.3 1190.16L389.3 1199.56Z" fill="#FBC3A0"/>
<path d="M441.18 1194.26L449.38 1189.56L449.38 1198.96Z" fill="#FBC3A0"/>
<path d="M501.26 1259.01L509.46 1254.31L509.46 1263.71Z" fill="#FBC3A0"/>
</g>
<g>
<polyline fill="none" stroke="#F98C66" stroke-width="1.4" stroke-linejoin="round" points="86.1,1191.71 146.18,1239.17 206.26,1010.3 266.34,1234.06 326.42,1200.98 386.5,1206.74 446.58,1198.72 506.66,1250.1"/>
<path fill="none" stroke="#F98C66" stroke-width="1.3" d="M86.1 1184.58V1198.84M81.9 1184.58H90.3M81.9 1198.84H90.3M146.18 1233.23V1245.11M141.98 1233.23H150.38M141.98 1245.11H150.38M206.26 993.37V1027.23M202.06 993.37H210.46M202.06 1027.23H210.46M266.34 1224.14V1243.98M262.14 1224.14H270.54M262.14 1243.98H270.54M326.42 1188.5V1213.45M322.22 1188.5H330.62M322.22 1213.45H330.62M386.5 1188.92V1224.56M382.3 1188.92H390.7M382.3 1224.56H390.7M446.58 1189.81V1207.63M442.38 1189.81H450.78M442.38 1207.63H450.78M506.66 1237.03V1263.17M502.46 1237.03H510.86M502.46 1263.17H510.86"/>
<path d="M81.9 1184.41L93.9 1191.71L81.9 1199.01Z" fill="#F98C66"/>
<path d="M141.98 1231.87L153.98 1239.17L141.98 1246.47Z" fill="#F98C66"/>
<path d="M202.06 1003L214.06 1010.3L202.06 1017.6Z" fill="#F98C66"/>
<path d="M262.14 1226.76L274.14 1234.06L262.14 1241.36Z" fill="#F98C66"/>
<path d="M322.22 1193.68L334.22 1200.98L322.22 1208.28Z" fill="#F98C66"/>
<path d="M382.3 1199.44L394.3 1206.74L382.3 1214.04Z" fill="#F98C66"/>
<path d="M442.38 1191.42L454.38 1198.72L442.38 1206.02Z" fill="#F98C66"/>
<path d="M502.46 1242.8L514.46 1250.1L502.46 1257.4Z" fill="#F98C66"/>
</g>
<rect x="56" y="953.1" width="481" height="386.1" fill="none" stroke="#111" stroke-width="1.35"/>
<path d="M56 1339.2h7M56 1279.8h7M56 1220.4h7M56 1161h7M56 1101.6h7M56 1042.2h7M56 982.8h7M86.1 1339.2v-7M146.18 1339.2v-7M206.26 1339.2v-7M266.34 1339.2v-7M326.42 1339.2v-7M386.5 1339.2v-7M446.58 1339.2v-7M506.66 1339.2v-7" stroke="#111" stroke-width="1.35" fill="none"/>
<g font-size="15.2" text-anchor="end" fill="#111" stroke="#111" stroke-width="0.25">
<text x="46.5" y="1344.3">0</text>
<text x="46.5" y="1284.9">1</text>
<text x="46.5" y="1225.5">2</text>
<text x="46.5" y="1166.1">3</text>
<text x="46.5" y="1106.7">4</text>
<text x="46.5" y="1047.3">5</text>
<text x="46.5" y="987.9">6</text>
</g>
<g font-size="13" text-anchor="middle" fill="#111" stroke="#111" stroke-width="0.22">
<text x="86.1" y="1357.6">2022.01</text>
<text x="86.1" y="1373.6">bolting</text>
<text x="86.1" y="1388.8">stage</text>
<text x="146.18" y="1357.6">2022.03</text>
<text x="146.18" y="1373.6">flowering</text>
<text x="146.18" y="1388.8">stage</text>
<text x="206.26" y="1357.6">2022.04</text>
<text x="206.26" y="1373.6">maturity</text>
<text x="206.26" y="1388.8">stage</text>
<text x="266.34" y="1357.6">2022.09</text>
<text x="265.04" y="1373.6" font-size="12.75">rice maturity</text>
<text x="266.34" y="1388.8">stage</text>
<text x="326.42" y="1357.6">2022.12</text>
<text x="326.42" y="1373.6">bolting</text>
<text x="326.42" y="1388.8">stage</text>
<text x="386.5" y="1357.6">2023.03</text>
<text x="386.5" y="1373.6">flowering</text>
<text x="386.5" y="1388.8">stage</text>
<text x="446.58" y="1357.6">2023.05</text>
<text x="446.58" y="1373.6">maturity</text>
<text x="446.58" y="1388.8">stage</text>
<text x="506.66" y="1357.6">2023.09</text>
<text x="505.36" y="1373.6" font-size="12.75">rice maturity</text>
<text x="506.66" y="1388.8">stage</text>
</g>
<text transform="translate(30.7 1146.5) rotate(-90)" font-size="20.4" text-anchor="middle" fill="#111" stroke="#111" stroke-width="0.3">catalase(g·kg<tspan font-size="12" dy="-9">−1</tspan><tspan dy="9">)</tspan></text>
<text x="16.4" y="970.7" font-size="20" fill="#111" stroke="#111" stroke-width="0.25">(c)</text>
<g font-size="15.5" fill="#111" stroke-width="0.25">
<path d="M427.8 974.1H465.5" stroke="#5B8FD3" stroke-width="1.4"/>
<rect x="441.05" y="968.5" width="11.2" height="11.2" fill="#5B8FD3"/>
<text stroke="#111" x="470.3" y="979.3">CK</text>
<path d="M427.8 994.55H465.5" stroke="#22A97C" stroke-width="1.4"/>
<circle cx="446.65" cy="994.55" r="5.2" fill="#22A97C"/>
<text stroke="#111" x="470.3" y="999.75">YF</text>
<path d="M427.8 1015H465.5" stroke="#86C66C" stroke-width="1.4"/>
<path d="M446.65 1009.4L451.45 1018L441.85 1018Z" fill="#86C66C"/>
<text stroke="#111" x="470.3" y="1020.2">YB</text>
<path d="M427.8 1035.45H465.5" stroke="#CFEAB6" stroke-width="1.4"/>
<circle cx="446.65" cy="1035.45" r="5.8" fill="url(#sph)"/>
<text stroke="#111" x="470.3" y="1040.65">SF</text>
<path d="M427.8 1055.9H465.5" stroke="#FFEA6A" stroke-width="1.4"/>
<path d="M440.45 1052.3L452.85 1052.3L446.65 1062.9Z" fill="#FFEA6A"/>
<text stroke="#111" x="470.3" y="1061.1">SB</text>
<path d="M427.8 1076.35H465.5" stroke="#FBC3A0" stroke-width="1.4"/>
<path d="M441.25 1076.35L449.45 1071.65L449.45 1081.05Z" fill="#FBC3A0"/>
<text stroke="#111" x="470.3" y="1081.55">YSF</text>
<path d="M427.8 1096.8H465.5" stroke="#F98C66" stroke-width="1.4"/>
<path d="M442.45 1089.5L454.45 1096.8L442.45 1104.1Z" fill="#F98C66"/>
<text stroke="#111" x="470.3" y="1102">YSB</text>
</g>
</g>
</svg>
</body>
</html>
